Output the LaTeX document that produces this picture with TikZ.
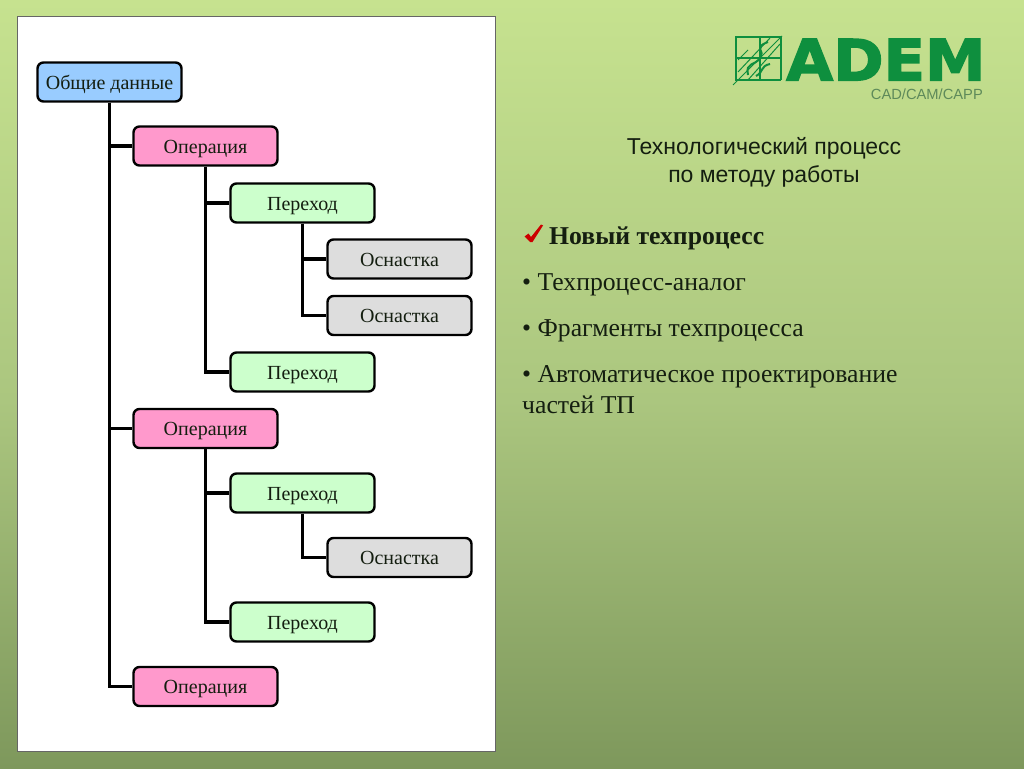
\documentclass[tikz,border=0pt]{standalone}
\usepackage{fontspec}
\setmainfont{Liberation Serif}
\newfontfamily\headfont{Liberation Sans}
\newfontfamily\logofont[FakeBold=2.6,FakeStretch=1.065]{DejaVu Sans Bold}
\definecolor{logog}{HTML}{0E8F3E}
\definecolor{logot}{HTML}{5E8A5A}
\definecolor{bgtop}{HTML}{C6E28F}
\definecolor{bgmid}{HTML}{ABC67F}
\definecolor{bgbot}{HTML}{7E985C}
\definecolor{txt}{HTML}{141E10}
\tikzset{
  box/.style={draw=black,line width=2.4pt,rounded corners=6pt,minimum width=144pt,minimum height=39pt,inner sep=0pt,text=txt,font=\fontsize{20}{24}\selectfont,text height=17pt,text depth=3pt},
  gen/.style={box,fill={rgb,255:red,153;green,204;blue,255}},
  opn/.style={box,fill={rgb,255:red,255;green,153;blue,204}},
  trn/.style={box,fill={rgb,255:red,204;green,255;blue,204}},
  osn/.style={box,fill={rgb,255:red,221;green,221;blue,221}},
  link/.style={draw=black,line width=3.4pt},
  head/.style={font=\headfont\fontsize{23}{28}\selectfont,align=center,text=txt,inner sep=0pt},
  item/.style={font=\fontsize{25.7}{31}\selectfont,align=left,anchor=base west,inner sep=0pt,text=txt},
  logoline/.style={draw=logog,line width=2pt},
  logothin/.style={draw=logog,line width=1pt}
}
\begin{document}
\begin{tikzpicture}[x=1pt,y=-1pt]
\useasboundingbox (0,0) rectangle (1024,768);
\fill[top color=bgtop,bottom color=bgmid] (0,0) rectangle (1024,400);
\fill[top color=bgmid,bottom color=bgbot] (0,400) rectangle (1024,768);
\draw[fill=white,draw=black!60,line width=1pt] (17,17) rectangle (495,751);
\node[gen] (g) at (109.5,82) {Общие данные};
\node[opn] (o1) at (205.5,146) {Операция};
\node[trn] (t1) at (302.5,203) {Переход};
\node[osn] (s1) at (399.5,259) {Оснастка};
\node[osn] (s2) at (399.5,315.5) {Оснастка};
\node[trn] (t2) at (302.5,372) {Переход};
\node[opn] (o2) at (205.5,428.5) {Операция};
\node[trn] (t3) at (302.5,493) {Переход};
\node[osn] (s3) at (399.5,557.5) {Оснастка};
\node[trn] (t4) at (302.5,622) {Переход};
\node[opn] (o3) at (205.5,686.5) {Операция};
\draw[link] (g.south) |- (o1.west);
\draw[link] (g.south) |- (o2.west);
\draw[link] (g.south) |- (o3.west);
\draw[link] (o1.south) |- (t1.west);
\draw[link] (o1.south) |- (t2.west);
\draw[link] (t1.south) |- (s1.west);
\draw[link] (t1.south) |- (s2.west);
\draw[link] (o2.south) |- (t3.west);
\draw[link] (o2.south) |- (t4.west);
\draw[link] (t3.south) |- (s3.west);
% logo
\draw[logoline] (735,37) -- (781,37) (735,58) -- (781,58) (735,80) -- (781,80);
\draw[logoline] (736,37) -- (736,80) (760,37) -- (760,80) (781,37) -- (781,80);
\draw[logothin] (733,85) -- (782,36);
\draw[logothin] (738,72) -- (770,38) (748,80) -- (780,44) (738,60) -- (748,50);
\draw[logoline] (748,75) .. controls (745,62) and (755,66) .. (760,58) .. controls (766,50) and (752,48) .. (768,42);
\draw[logoline] (756,76) .. controls (764,72) and (760,66) .. (770,64);
\node[inner sep=0pt,anchor=base west,text=logog,font=\logofont\fontsize{57}{57}\selectfont,text height=42pt,text depth=0pt] (logo) at (786,80.5) {ADEM};
\node[inner sep=0pt,anchor=base east,text=logot,font=\headfont\fontsize{14.7}{16}\selectfont] (logosub) at (983,99) {CAD/CAM/CAPP};
% text
\node[head] (title) at (764,162) {Технологический процесс\\по методу работы};
\fill[red!80!black] (524.5,236.5) -- (528.5,233.5) -- (531,237) -- (541,224.5) -- (543,225.5) -- (532.5,242) -- (530,242) -- cycle;
\node[item,font=\bfseries\fontsize{25.7}{31}\selectfont] (i1) at (549,244) {Новый техпроцесс};
\node[item] (i2) at (522,290) {• Техпроцесс-аналог};
\node[item] (i3) at (522,336) {• Фрагменты техпроцесса};
\node[item] (i4) at (522,413) {• Автоматическое проектирование\\частей ТП};
\end{tikzpicture}
\end{document}
